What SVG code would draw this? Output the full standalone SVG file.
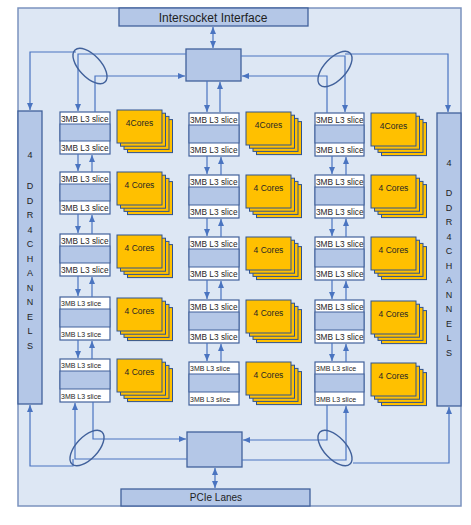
<svg xmlns="http://www.w3.org/2000/svg" xmlns:xlink="http://www.w3.org/1999/xlink" width="471" height="525" viewBox="0 0 471 525">
<style>
.bg{fill:#dde7f4;stroke:#7b93be;stroke-width:1.5}
.box{fill:#b4c7e7;stroke:#41619b;stroke-width:1.3}
.tile{fill:#ffffff;stroke:#41619b;stroke-width:1.2}
.band{fill:#b4c7e7;stroke:#41619b;stroke-width:1}
.core{fill:#ffc000;stroke:#2f528f;stroke-width:1}
.ln{fill:none;stroke:#4a74c0;stroke-width:1.2}
.ell{fill:none;stroke:#41619b;stroke-width:1.4}
.l3{font-family:"Liberation Sans",Arial,sans-serif;font-size:8.3px;fill:#262626}
.l3s{font-family:"Liberation Sans",Arial,sans-serif;font-size:7px;fill:#262626}
.ct{font-family:"Liberation Sans",Arial,sans-serif;font-size:8.5px;fill:#262626;text-anchor:middle}
.big{font-family:"Liberation Sans",Arial,sans-serif;fill:#1e1e1e;text-anchor:middle}
.ddr{font-family:"Liberation Sans",Arial,sans-serif;font-size:9px;fill:#1e1e1e;text-anchor:middle}
</style>
<defs>
<marker id="ah" markerUnits="userSpaceOnUse" markerWidth="7" markerHeight="6" refX="7" refY="3" orient="auto-start-reverse">
<path d="M0,0 L7,3 L0,6 z" fill="#4a74c0"/>
</marker>
<g id="stack">
<rect class="core" x="10.5" y="9.6" width="45" height="33"/>
<rect class="core" x="7" y="6.4" width="45" height="33"/>
<rect class="core" x="3.5" y="3.2" width="45" height="33"/>
<rect class="core" x="0" y="0" width="45" height="33"/>
</g>
</defs>

<rect class="bg" x="18" y="8" width="443" height="498"/>

<g id="intersocket">
<rect class="box" x="119" y="8" width="189" height="18"/>
<text class="big" x="213" y="22" font-size="12">Intersocket Interface</text>
</g>
<g id="pcie">
<rect class="box" x="121" y="489" width="189" height="17"/>
<text class="big" x="216" y="501" font-size="10">PCIe Lanes</text>
</g>
<g id="hub-top"><rect class="box" x="186" y="49" width="55" height="32"/></g>
<g id="hub-bottom"><rect class="box" x="187" y="432" width="55" height="35"/></g>

<g id="ddr-left">
<rect class="box" x="18" y="111" width="24" height="293"/>
<text class="ddr" x="30" y="158">4</text>
<text class="ddr" x="30" y="189">D</text>
<text class="ddr" x="30" y="203.5">D</text>
<text class="ddr" x="30" y="218">R</text>
<text class="ddr" x="30" y="232.5">4</text>
<text class="ddr" x="30" y="247">C</text>
<text class="ddr" x="30" y="261.5">H</text>
<text class="ddr" x="30" y="276">A</text>
<text class="ddr" x="30" y="290.5">N</text>
<text class="ddr" x="30" y="305">N</text>
<text class="ddr" x="30" y="319.5">E</text>
<text class="ddr" x="30" y="334">L</text>
<text class="ddr" x="30" y="348.5">S</text>
</g>
<g id="ddr-right">
<rect class="box" x="437" y="113" width="24" height="293"/>
<text class="ddr" x="449" y="166">4</text>
<text class="ddr" x="449" y="196">D</text>
<text class="ddr" x="449" y="210.5">D</text>
<text class="ddr" x="449" y="225">R</text>
<text class="ddr" x="449" y="239.5">4</text>
<text class="ddr" x="449" y="254">C</text>
<text class="ddr" x="449" y="268.5">H</text>
<text class="ddr" x="449" y="283">A</text>
<text class="ddr" x="449" y="297.5">N</text>
<text class="ddr" x="449" y="312">N</text>
<text class="ddr" x="449" y="326.5">E</text>
<text class="ddr" x="449" y="341">L</text>
<text class="ddr" x="449" y="355.5">S</text>
</g>

<!-- Left column L3 tiles -->
<g id="l3-l1"><rect class="tile" x="60" y="112" width="50" height="42"/><rect class="band" x="60" y="124" width="50" height="17"/><text class="l3" x="61" y="121.5">3MB L3 slice</text><text class="l3" x="61" y="150.5">3MB L3 slice</text></g>
<g id="l3-l2"><rect class="tile" x="60" y="172" width="50" height="42"/><rect class="band" x="60" y="184" width="50" height="17"/><text class="l3" x="61" y="181.5">3MB L3 slice</text><text class="l3" x="61" y="210.5">3MB L3 slice</text></g>
<g id="l3-l3"><rect class="tile" x="60" y="234" width="50" height="42"/><rect class="band" x="60" y="246" width="50" height="17"/><text class="l3" x="61" y="243.5">3MB L3 slice</text><text class="l3" x="61" y="272.5">3MB L3 slice</text></g>
<g id="l3-l4"><rect class="tile" x="60" y="297" width="50" height="43"/><rect class="band" x="60" y="309" width="50" height="18"/><text class="l3s" x="61" y="306">3MB L3 slice</text><text class="l3s" x="61" y="336.5">3MB L3 slice</text></g>
<g id="l3-l5"><rect class="tile" x="60" y="359" width="50" height="43"/><rect class="band" x="60" y="371" width="50" height="18"/><text class="l3s" x="61" y="368">3MB L3 slice</text><text class="l3s" x="61" y="398.5">3MB L3 slice</text></g>

<!-- Middle column L3 tiles -->
<g id="l3-m1"><rect class="tile" x="189" y="113" width="50" height="43"/><rect class="band" x="189" y="125" width="50" height="18"/><text class="l3" x="190" y="122.5">3MB L3 slice</text><text class="l3" x="190" y="152.5">3MB L3 slice</text></g>
<g id="l3-m2"><rect class="tile" x="189" y="175" width="50" height="43"/><rect class="band" x="189" y="187" width="50" height="18"/><text class="l3" x="190" y="184.5">3MB L3 slice</text><text class="l3" x="190" y="214.5">3MB L3 slice</text></g>
<g id="l3-m3"><rect class="tile" x="189" y="237" width="50" height="43"/><rect class="band" x="189" y="249" width="50" height="18"/><text class="l3" x="190" y="246.5">3MB L3 slice</text><text class="l3" x="190" y="276.5">3MB L3 slice</text></g>
<g id="l3-m4"><rect class="tile" x="189" y="300" width="50" height="43"/><rect class="band" x="189" y="312" width="50" height="18"/><text class="l3" x="190" y="309.5">3MB L3 slice</text><text class="l3" x="190" y="339.5">3MB L3 slice</text></g>
<g id="l3-m5"><rect class="tile" x="189" y="362" width="50" height="43"/><rect class="band" x="189" y="374" width="50" height="18"/><text class="l3s" x="190" y="371">3MB L3 slice</text><text class="l3s" x="190" y="401.5">3MB L3 slice</text></g>

<!-- Right column L3 tiles -->
<g id="l3-r1"><rect class="tile" x="315" y="113" width="49" height="43"/><rect class="band" x="315" y="125" width="49" height="18"/><text class="l3" x="316" y="122.5">3MB L3 slice</text><text class="l3" x="316" y="152.5">3MB L3 slice</text></g>
<g id="l3-r2"><rect class="tile" x="315" y="175" width="49" height="43"/><rect class="band" x="315" y="187" width="49" height="18"/><text class="l3" x="316" y="184.5">3MB L3 slice</text><text class="l3" x="316" y="214.5">3MB L3 slice</text></g>
<g id="l3-r3"><rect class="tile" x="315" y="237" width="49" height="43"/><rect class="band" x="315" y="249" width="49" height="18"/><text class="l3" x="316" y="246.5">3MB L3 slice</text><text class="l3" x="316" y="276.5">3MB L3 slice</text></g>
<g id="l3-r4"><rect class="tile" x="315" y="300" width="49" height="43"/><rect class="band" x="315" y="312" width="49" height="18"/><text class="l3" x="316" y="309.5">3MB L3 slice</text><text class="l3" x="316" y="339.5">3MB L3 slice</text></g>
<g id="l3-r5"><rect class="tile" x="315" y="362" width="49" height="43"/><rect class="band" x="315" y="374" width="49" height="18"/><text class="l3s" x="316" y="371">3MB L3 slice</text><text class="l3s" x="316" y="401.5">3MB L3 slice</text></g>

<!-- Core stacks -->
<g id="cores-l1"><use xlink:href="#stack" x="117" y="110"/><text class="ct" x="139.5" y="126">4Cores</text></g>
<g id="cores-l2"><use xlink:href="#stack" x="117" y="172"/><text class="ct" x="139.5" y="188">4 Cores</text></g>
<g id="cores-l3"><use xlink:href="#stack" x="117" y="235"/><text class="ct" x="139.5" y="251">4 Cores</text></g>
<g id="cores-l4"><use xlink:href="#stack" x="117" y="298"/><text class="ct" x="139.5" y="314">4 Cores</text></g>
<g id="cores-l5"><use xlink:href="#stack" x="117" y="359"/><text class="ct" x="139.5" y="375">4 Cores</text></g>
<g id="cores-m1"><use xlink:href="#stack" x="246" y="112"/><text class="ct" x="268.5" y="128">4Cores</text></g>
<g id="cores-m2"><use xlink:href="#stack" x="246" y="175"/><text class="ct" x="268.5" y="191">4 Cores</text></g>
<g id="cores-m3"><use xlink:href="#stack" x="246" y="237"/><text class="ct" x="268.5" y="253">4 Cores</text></g>
<g id="cores-m4"><use xlink:href="#stack" x="246" y="300"/><text class="ct" x="268.5" y="316">4 Cores</text></g>
<g id="cores-m5"><use xlink:href="#stack" x="246" y="362"/><text class="ct" x="268.5" y="378">4 Cores</text></g>
<g id="cores-r1"><use xlink:href="#stack" x="371" y="113"/><text class="ct" x="393.5" y="129">4Cores</text></g>
<g id="cores-r2"><use xlink:href="#stack" x="371" y="175"/><text class="ct" x="393.5" y="191">4 Cores</text></g>
<g id="cores-r3"><use xlink:href="#stack" x="371" y="237"/><text class="ct" x="393.5" y="253">4 Cores</text></g>
<g id="cores-r4"><use xlink:href="#stack" x="371" y="301"/><text class="ct" x="393.5" y="317">4 Cores</text></g>
<g id="cores-r5"><use xlink:href="#stack" x="371" y="363"/><text class="ct" x="393.5" y="379">4 Cores</text></g>

<g id="connectors">
<!-- intersocket / pcie -->
<path class="ln" d="M213,27 V48" marker-start="url(#ah)" marker-end="url(#ah)"/>
<path class="ln" d="M215,468 V488" marker-start="url(#ah)" marker-end="url(#ah)"/>
<!-- top hub -->
<path class="ln" d="M186,54 H78 V111" marker-end="url(#ah)"/>
<path class="ln" d="M76,52 H30 V110" marker-end="url(#ah)"/>
<path class="ln" d="M95,112 V76 H185" marker-end="url(#ah)"/>
<path class="ln" d="M207,81 V112" marker-end="url(#ah)"/>
<path class="ln" d="M220,112 V82" marker-end="url(#ah)"/>
<path class="ln" d="M241,56 H345 V112" marker-end="url(#ah)"/>
<path class="ln" d="M345,54 H448 V112" marker-end="url(#ah)"/>
<path class="ln" d="M327,113 V76 H242" marker-end="url(#ah)"/>
<!-- bottom hub -->
<path class="ln" d="M93,402 V439 H186" marker-end="url(#ah)"/>
<path class="ln" d="M187,459 H75 V403" marker-end="url(#ah)"/>
<path class="ln" d="M73,459 V466 H30 V405" marker-end="url(#ah)"/>
<path class="ln" d="M327,405 V440 H243" marker-end="url(#ah)"/>
<path class="ln" d="M242,460 H346 V406" marker-end="url(#ah)"/>
<path class="ln" d="M353,463 H449 V407" marker-end="url(#ah)"/>
<!-- left column vertical links -->
<path class="ln" d="M78,154 V171" marker-end="url(#ah)"/><path class="ln" d="M92,172 V155" marker-end="url(#ah)"/>
<path class="ln" d="M78,214 V233" marker-end="url(#ah)"/><path class="ln" d="M92,234 V215" marker-end="url(#ah)"/>
<path class="ln" d="M78,276 V296" marker-end="url(#ah)"/><path class="ln" d="M92,297 V277" marker-end="url(#ah)"/>
<path class="ln" d="M78,340 V358" marker-end="url(#ah)"/><path class="ln" d="M92,359 V341" marker-end="url(#ah)"/>
<!-- middle column vertical links -->
<path class="ln" d="M207,156 V174" marker-end="url(#ah)"/><path class="ln" d="M221,175 V157" marker-end="url(#ah)"/>
<path class="ln" d="M207,218 V236" marker-end="url(#ah)"/><path class="ln" d="M221,237 V219" marker-end="url(#ah)"/>
<path class="ln" d="M207,280 V299" marker-end="url(#ah)"/><path class="ln" d="M221,300 V281" marker-end="url(#ah)"/>
<path class="ln" d="M207,343 V361" marker-end="url(#ah)"/><path class="ln" d="M221,362 V344" marker-end="url(#ah)"/>
<!-- right column vertical links -->
<path class="ln" d="M332,156 V174" marker-end="url(#ah)"/><path class="ln" d="M346,175 V157" marker-end="url(#ah)"/>
<path class="ln" d="M332,218 V236" marker-end="url(#ah)"/><path class="ln" d="M346,237 V219" marker-end="url(#ah)"/>
<path class="ln" d="M332,280 V299" marker-end="url(#ah)"/><path class="ln" d="M346,300 V281" marker-end="url(#ah)"/>
<path class="ln" d="M332,343 V361" marker-end="url(#ah)"/><path class="ln" d="M346,362 V344" marker-end="url(#ah)"/>
<!-- ellipses -->
<ellipse class="ell" cx="90" cy="66" rx="22" ry="11" transform="rotate(47 90 66)"/>
<ellipse class="ell" cx="335" cy="69" rx="22" ry="11" transform="rotate(-47 335 69)"/>
<ellipse class="ell" cx="87" cy="448" rx="22" ry="11" transform="rotate(-47 87 448)"/>
<ellipse class="ell" cx="335" cy="448" rx="22" ry="11" transform="rotate(47 335 448)"/>
</g>
</svg>
